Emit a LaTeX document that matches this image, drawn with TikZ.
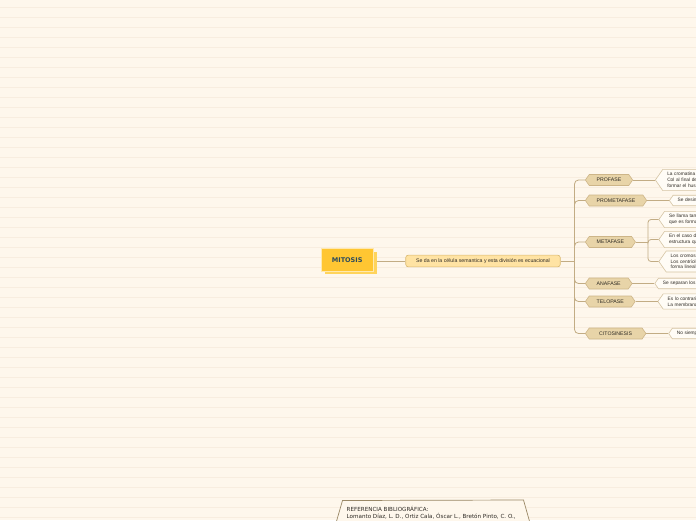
\documentclass[tikz,border=0pt]{standalone}
\usepackage{fontspec}
\setmainfont{Liberation Sans}
\newfontfamily\dejavu{DejaVu Sans}
\usetikzlibrary{positioning,shapes.symbols,shadows}

\definecolor{paper}{HTML}{FEF7EC}
\definecolor{ruled}{HTML}{F8EDDF}
\definecolor{topicyellow}{HTML}{FFC632}
\definecolor{topicshade}{HTML}{FFD45C}
\definecolor{topicedge}{HTML}{FFE9B0}
\definecolor{topictext}{HTML}{2D4B5B}
\definecolor{subfill}{HTML}{FFE3A3}
\definecolor{subdraw}{HTML}{D8B870}
\definecolor{linkcolor}{HTML}{C2AC84}
\definecolor{phasefill}{HTML}{E8D4A8}
\definecolor{phasedraw}{HTML}{CDB588}
\definecolor{leaffill}{HTML}{FFFCF6}
\definecolor{leafdraw}{HTML}{D5C4A3}
\definecolor{bibdraw}{HTML}{9A8866}
\definecolor{darktext}{HTML}{2E2A24}

\begin{document}
\begin{tikzpicture}[x=1pt,y=-1pt,
    link/.style={draw=linkcolor,line width=0.8pt},
    topic node/.style={rectangle,fill=topicyellow,draw=topicedge,line width=0.6pt,
        minimum width=52pt,minimum height=22.5pt,text=topictext,
        font=\dejavu\bfseries\fontsize{6.5}{7}\selectfont,
        drop shadow={shadow xshift=3.3pt,shadow yshift=-3.3pt,fill=topicshade,opacity=1}},
    sub node/.style={rectangle,rounded corners=2.5pt,fill=subfill,draw=subdraw,line width=0.6pt,
        minimum width=154.5pt,minimum height=11.7pt,inner sep=0pt,text=darktext,
        font=\fontsize{5.2}{6}\selectfont},
    phase node/.style={shape=signal,signal to=west and east,signal pointer angle=110,
        fill=phasefill,draw=phasedraw,line width=0.6pt,inner xsep=7.5pt,inner ysep=0pt,
        minimum height=11pt,text=darktext,font=\fontsize{5.2}{6}\selectfont,anchor=west},
    leaf node/.style={shape=signal,signal to=west,signal pointer angle=110,
        fill=leaffill,draw=leafdraw,line width=0.6pt,text width=60pt,align=left,
        inner xsep=4.5pt,inner ysep=3pt,text=darktext,font=\fontsize{4.8}{5.8}\selectfont},
    bib text/.style={inner sep=0pt,align=left,text=darktext,
        font=\dejavu\fontsize{5.6}{6.8}\selectfont}]
    \useasboundingbox (0,0) rectangle (696,520);
    \clip (0,0) rectangle (696,520);
    % paper
    \fill[paper] (0,0) rectangle (696,520);
    \foreach \y in {7.5,17.5,...,517.5}
        \draw[ruled,line width=0.7pt] (0,\y) -- (696,\y);

    \node[topic node] (mitosis) at (347.2,259.7) {MITOSIS};
    \node[sub node] (division) at (483,261) {Se da en la célula semantica y esta división es ecuacional};
    \coordinate (trunk) at (574.5,261);

    \node[phase node] (profase) at (585,180) {PROFASE};
    \node[phase node] (prometafase) at (585,200.5) {PROMETAFASE};
    \node[phase node] (metafase) at (585,242) {METAFASE};
    \node[phase node] (anafase) at (585,283.5) {ANAFASE};
    \node[phase node] (telopase) at (585,301.5) {TELOPASE};
    \node[phase node,inner xsep=10pt] (citosinesis) at (585,333.5) {CITOSINESIS};

    \node[leaf node,right=22pt of profase] (profaseleaf) {La cromatina se\\Col al final de\\formar el huso};
    \node[leaf node,right=22pt of prometafase] (prometafaseleaf) {Se desintegra};
    \coordinate (metabar) at (648,242);
    \node[leaf node,anchor=west] (metaA) at (658.5,219.5) {Se llama también\\que es formada};
    \node[leaf node,anchor=west] (metaB) at (658.5,239.5) {En el caso de\\estructura que};
    \node[leaf node,anchor=west] (metaC) at (658.5,261.5) {Los cromosomas\\Los centríolos\\forma lineal};
    \node[leaf node,right=22pt of anafase] (anafaseleaf) {Se separan los};
    \node[leaf node,right=22pt of telopase] (telopaseleaf) {Es lo contrario\\La membrana};
    \node[leaf node,right=22pt of citosinesis] (citosinesisleaf) {No siempre};

    % connectors
    \draw[link] (division.west) -- ([xshift=3.3pt]mitosis.east |- division.west);
    \draw[link] (division.east) -- (trunk);
    \foreach \p in {profase,prometafase,metafase,anafase,telopase,citosinesis}
        \draw[link,rounded corners=4pt] (trunk) |- (\p.west);
    \foreach \p in {profase,prometafase,anafase,telopase,citosinesis}
        \draw[link] (\p.east) -- (\p leaf.west);
    \draw[link] (metafase.east) -- (metabar);
    \foreach \m in {metaA,metaB,metaC}
        \draw[link,rounded corners=3pt] (metabar) |- (\m.west);

    % bibliography
    \draw[fill=paper,draw=bibdraw,line width=0.7pt] (336,523) -- (342.5,500.5) -- (523.5,500) -- (530,523);
    \node[bib text,anchor=north west] (biblio) at (346.5,505.8)
        {REFERENCIA BIBLIOGRÁFICA:\\Lomanto Díaz, L. D., Ortiz Cala, Óscar L., Bretón Pinto, C. O.,};
\end{tikzpicture}
\end{document}
